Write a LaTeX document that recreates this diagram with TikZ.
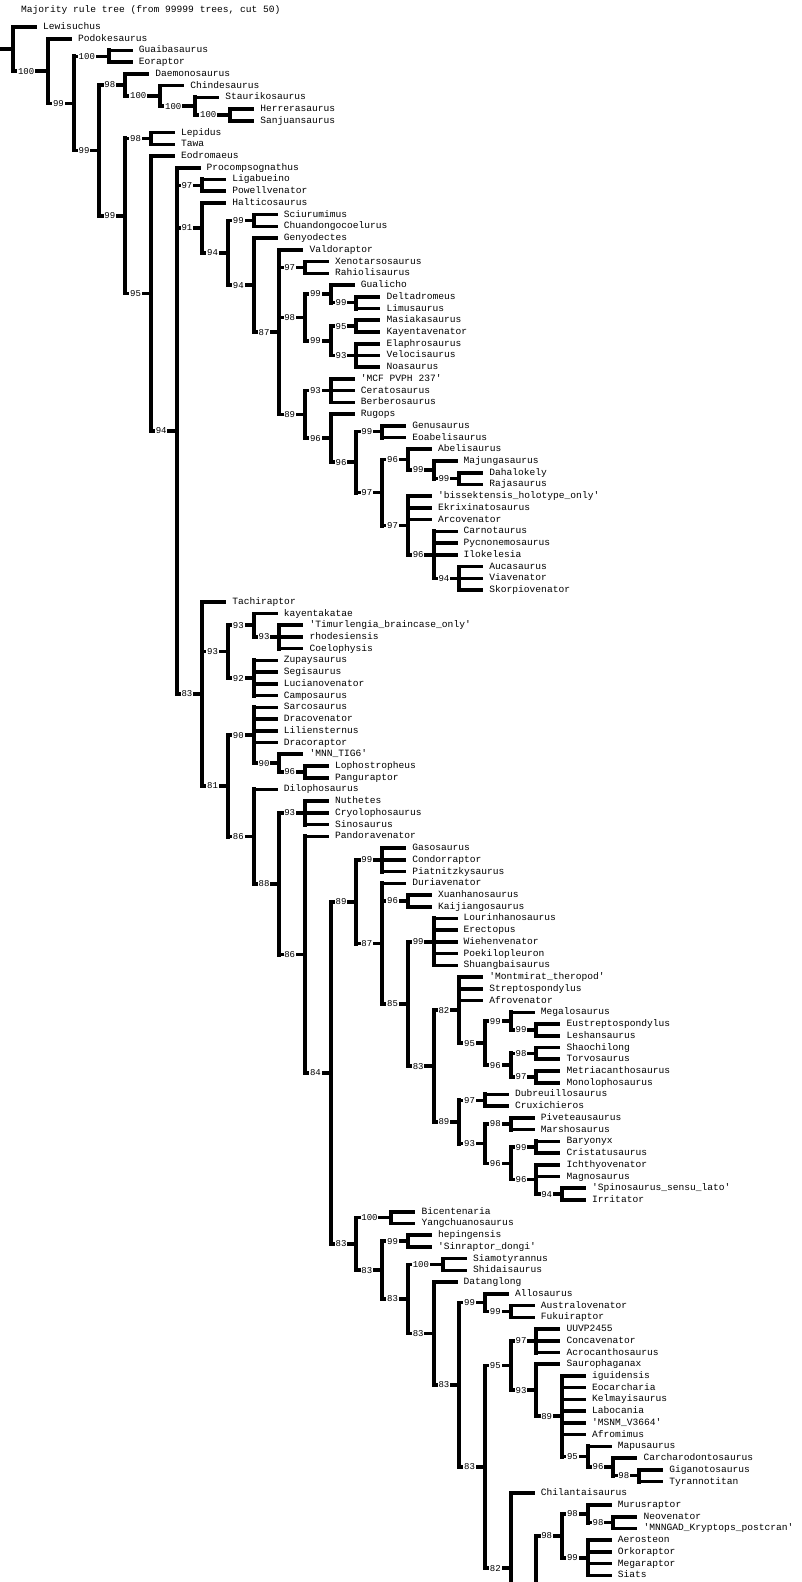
\documentclass[tikz,border=0pt]{standalone}
\usepackage{fontspec}
\newfontfamily\tf{Liberation Mono}
\def\q{\textquotesingle}
\makeatletter
\newcount\leafcnt
\def\drawlist{}
\expandafter\def\csname x@top\endcsname{-12.7}
\def\Lf#1#2#3{%
  \pgfmathsetmacro\tmpy{27+11.73*\the\leafcnt}%
  \expandafter\xdef\csname y@#1\endcsname{\tmpy}%
  \global\advance\leafcnt by 1
  \g@addto@macro\drawlist{\drawleaf{#1}{#2}{#3}}}
\def\Ph#1#2{\expandafter\xdef\csname y@#1\endcsname{#2}}
\def\Cl#1#2#3#4#5{%
  \pgfmathsetmacro\tmpy{(\csname y@#4\endcsname+\csname y@#5\endcsname)/2}%
  \expandafter\xdef\csname y@#1\endcsname{\tmpy}%
  \ifnum0#3>99 \def\off{35}\else\def\off{25.7}\fi
  \expandafter\xdef\csname x@#1\endcsname{(\expandafter\noexpand\csname x@#2\endcsname+\off)}%
  \g@addto@macro\drawlist{\drawclade{#1}{#2}{#3}{#4}{#5}}}
\def\drawclade#1#2#3#4#5{%
  \pgfmathsetmacro\X{\csname x@#1\endcsname}%
  \pgfmathsetmacro\PX{\csname x@#2\endcsname}%
  \edef\Ya{\csname y@#4\endcsname}\edef\Yb{\csname y@#5\endcsname}\edef\Y{\csname y@#1\endcsname}%
  \draw[bar] (\X,\Ya) -- (\X,\Yb);
  \draw[hl] (\PX,\Y) -- (\X,\Y);
  \if\relax\detokenize{#3}\relax\else
  \node[lab] at (\PX+4,\Y+3) {#3};\fi}
\def\drawleaf#1#2#3{%
  \pgfmathsetmacro\PX{\csname x@#2\endcsname}%
  \edef\Y{\csname y@#1\endcsname}%
  \draw[hl] (\PX,\Y) -- (\PX+24,\Y);
  \node[leaf] at (\PX+30,\Y+2.5) {#3};}
\makeatother
\tikzset{
  bar/.style={line width=4pt, line cap=rect},
  hl/.style={line width=3.6pt},
  lab/.style={anchor=base west, fill=white, inner xsep=0.8pt, inner ysep=0.6pt, font=\tf\fontsize{9}{9}\selectfont},
  leaf/.style={anchor=base west, inner sep=0pt, font=\tf\fontsize{9.6}{10}\selectfont}
}
\begin{document}
\begin{tikzpicture}[x=1pt,y=-1pt]
\useasboundingbox (0,0) rectangle (802,1582);
\clip (0,0) rectangle (802,1582);
\node[leaf] (title) at (21,12.5) {Majority rule tree (from 99999 trees, cut 50)};
\Lf{l0}{root}{Lewisuchus}
\Lf{l1}{A}{Podokesaurus}
\Lf{l2}{C}{Guaibasaurus}
\Lf{l3}{C}{Eoraptor}
\Cl{C}{B}{100}{l2}{l3}
\Lf{l4}{E}{Daemonosaurus}
\Lf{l5}{E2}{Chindesaurus}
\Lf{l6}{E3}{Staurikosaurus}
\Lf{l7}{E4}{Herrerasaurus}
\Lf{l8}{E4}{Sanjuansaurus}
\Cl{E4}{E3}{100}{l7}{l8}
\Cl{E3}{E2}{100}{l6}{E4}
\Cl{E2}{E}{100}{l5}{E3}
\Cl{E}{D}{98}{l4}{E2}
\Lf{l9}{G}{Lepidus}
\Lf{l10}{G}{Tawa}
\Cl{G}{F}{98}{l9}{l10}
\Lf{l11}{H}{Eodromaeus}
\Lf{l12}{I}{Procompsognathus}
\Lf{l13}{J}{Ligabueino}
\Lf{l14}{J}{Powellvenator}
\Cl{J}{I}{97}{l13}{l14}
\Lf{l15}{K}{Halticosaurus}
\Lf{l16}{K2}{Sciurumimus}
\Lf{l17}{K2}{Chuandongocoelurus}
\Cl{K2}{K1}{99}{l16}{l17}
\Lf{l18}{K3}{Genyodectes}
\Lf{l19}{L}{Valdoraptor}
\Lf{l20}{L1}{Xenotarsosaurus}
\Lf{l21}{L1}{Rahiolisaurus}
\Cl{L1}{L}{97}{l20}{l21}
\Lf{l22}{L3}{Gualicho}
\Lf{l23}{L4}{Deltadromeus}
\Lf{l24}{L4}{Limusaurus}
\Cl{L4}{L3}{99}{l23}{l24}
\Cl{L3}{L2}{99}{l22}{L4}
\Lf{l25}{L6}{Masiakasaurus}
\Lf{l26}{L6}{Kayentavenator}
\Cl{L6}{L5}{95}{l25}{l26}
\Lf{l27}{L7}{Elaphrosaurus}
\Lf{l28}{L7}{Velocisaurus}
\Lf{l29}{L7}{Noasaurus}
\Cl{L7}{L5}{93}{l27}{l29}
\Cl{L5}{L2}{99}{L6}{L7}
\Cl{L2}{L}{98}{L3}{L5}
\Lf{l30}{M1}{\q MCF PVPH 237\q}
\Lf{l31}{M1}{Ceratosaurus}
\Lf{l32}{M1}{Berberosaurus}
\Cl{M1}{M}{93}{l30}{l32}
\Lf{l33}{M2}{Rugops}
\Lf{l34}{M4}{Genusaurus}
\Lf{l35}{M4}{Eoabelisaurus}
\Cl{M4}{M3}{99}{l34}{l35}
\Lf{l36}{M6}{Abelisaurus}
\Lf{l37}{M7}{Majungasaurus}
\Lf{l38}{M8}{Dahalokely}
\Lf{l39}{M8}{Rajasaurus}
\Cl{M8}{M7}{99}{l38}{l39}
\Cl{M7}{M6}{99}{l37}{M8}
\Cl{M6}{M5}{96}{l36}{M7}
\Lf{l40}{M9}{\q bissektensis\_holotype\_only\q}
\Lf{l41}{M9}{Ekrixinatosaurus}
\Lf{l42}{M9}{Arcovenator}
\Lf{l43}{M10}{Carnotaurus}
\Lf{l44}{M10}{Pycnonemosaurus}
\Lf{l45}{M10}{Ilokelesia}
\Lf{l46}{M11}{Aucasaurus}
\Lf{l47}{M11}{Viavenator}
\Lf{l48}{M11}{Skorpiovenator}
\Cl{M11}{M10}{94}{l46}{l48}
\Cl{M10}{M9}{96}{l43}{M11}
\Cl{M9}{M5}{97}{l40}{M10}
\Cl{M5}{M3}{97}{M6}{M9}
\Cl{M3}{M2}{96}{M4}{M5}
\Cl{M2}{M}{96}{l33}{M3}
\Cl{M}{L}{89}{M1}{M2}
\Cl{L}{K3}{87}{l19}{M}
\Cl{K3}{K1}{94}{l18}{L}
\Cl{K1}{K}{94}{K2}{K3}
\Cl{K}{I}{91}{l15}{K1}
\Lf{l49}{T}{Tachiraptor}
\Lf{l50}{T2}{kayentakatae}
\Lf{l51}{T3}{\q Timurlengia\_braincase\_only\q}
\Lf{l52}{T3}{rhodesiensis}
\Lf{l53}{T3}{Coelophysis}
\Cl{T3}{T2}{93}{l51}{l53}
\Cl{T2}{T1}{93}{l50}{T3}
\Lf{l54}{T4}{Zupaysaurus}
\Lf{l55}{T4}{Segisaurus}
\Lf{l56}{T4}{Lucianovenator}
\Lf{l57}{T4}{Camposaurus}
\Cl{T4}{T1}{92}{l54}{l57}
\Cl{T1}{T}{93}{T2}{T4}
\Lf{l58}{U1}{Sarcosaurus}
\Lf{l59}{U1}{Dracovenator}
\Lf{l60}{U1}{Liliensternus}
\Lf{l61}{U1}{Dracoraptor}
\Lf{l62}{U2}{\q MNN\_TIG6\q}
\Lf{l63}{U3}{Lophostropheus}
\Lf{l64}{U3}{Panguraptor}
\Cl{U3}{U2}{96}{l63}{l64}
\Cl{U2}{U1}{90}{l62}{U3}
\Cl{U1}{U}{90}{l58}{U2}
\Lf{l65}{V}{Dilophosaurus}
\Lf{l66}{V2}{Nuthetes}
\Lf{l67}{V2}{Cryolophosaurus}
\Lf{l68}{V2}{Sinosaurus}
\Cl{V2}{V1}{93}{l66}{l68}
\Lf{l69}{W}{Pandoravenator}
\Lf{l70}{P1}{Gasosaurus}
\Lf{l71}{P1}{Condorraptor}
\Lf{l72}{P1}{Piatnitzkysaurus}
\Cl{P1}{P}{99}{l70}{l72}
\Lf{l73}{P2}{Duriavenator}
\Lf{l74}{P3}{Xuanhanosaurus}
\Lf{l75}{P3}{Kaijiangosaurus}
\Cl{P3}{P2}{96}{l74}{l75}
\Lf{l76}{P5}{Lourinhanosaurus}
\Lf{l77}{P5}{Erectopus}
\Lf{l78}{P5}{Wiehenvenator}
\Lf{l79}{P5}{Poekilopleuron}
\Lf{l80}{P5}{Shuangbaisaurus}
\Cl{P5}{P4}{99}{l76}{l80}
\Lf{l81}{P7}{\q Montmirat\_theropod\q}
\Lf{l82}{P7}{Streptospondylus}
\Lf{l83}{P7}{Afrovenator}
\Lf{l84}{P9}{Megalosaurus}
\Lf{l85}{P9b}{Eustreptospondylus}
\Lf{l86}{P9b}{Leshansaurus}
\Cl{P9b}{P9}{99}{l85}{l86}
\Cl{P9}{P8}{99}{l84}{P9b}
\Lf{l87}{P11}{Shaochilong}
\Lf{l88}{P11}{Torvosaurus}
\Cl{P11}{P10}{98}{l87}{l88}
\Lf{l89}{P11b}{Metriacanthosaurus}
\Lf{l90}{P11b}{Monolophosaurus}
\Cl{P11b}{P10}{97}{l89}{l90}
\Cl{P10}{P8}{96}{P11}{P11b}
\Cl{P8}{P7}{95}{P9}{P10}
\Cl{P7}{P6}{82}{l81}{P8}
\Lf{l91}{P13}{Dubreuillosaurus}
\Lf{l92}{P13}{Cruxichieros}
\Cl{P13}{P12}{97}{l91}{l92}
\Lf{l93}{P15}{Piveteausaurus}
\Lf{l94}{P15}{Marshosaurus}
\Cl{P15}{P14}{98}{l93}{l94}
\Lf{l95}{P17}{Baryonyx}
\Lf{l96}{P17}{Cristatusaurus}
\Cl{P17}{P16}{99}{l95}{l96}
\Lf{l97}{P18}{Ichthyovenator}
\Lf{l98}{P18}{Magnosaurus}
\Lf{l99}{P19}{\q Spinosaurus\_sensu\_lato\q}
\Lf{l100}{P19}{Irritator}
\Cl{P19}{P18}{94}{l99}{l100}
\Cl{P18}{P16}{96}{l97}{P19}
\Cl{P16}{P14}{96}{P17}{P18}
\Cl{P14}{P12}{93}{P15}{P16}
\Cl{P12}{P6}{89}{P13}{P14}
\Cl{P6}{P4}{83}{P7}{P12}
\Cl{P4}{P2}{85}{P5}{P6}
\Cl{P2}{P}{87}{l73}{P4}
\Cl{P}{W1}{89}{P1}{P2}
\Lf{l101}{Q1}{Bicentenaria}
\Lf{l102}{Q1}{Yangchuanosaurus}
\Cl{Q1}{Q}{100}{l101}{l102}
\Lf{l103}{R1}{hepingensis}
\Lf{l104}{R1}{\q Sinraptor\_dongi\q}
\Cl{R1}{R}{99}{l103}{l104}
\Lf{l105}{S1}{Siamotyrannus}
\Lf{l106}{S1}{Shidaisaurus}
\Cl{S1}{S}{100}{l105}{l106}
\Lf{l107}{Sa}{Datanglong}
\Lf{l108}{Sc}{Allosaurus}
\Lf{l109}{Sc2}{Australovenator}
\Lf{l110}{Sc2}{Fukuiraptor}
\Cl{Sc2}{Sc}{99}{l109}{l110}
\Cl{Sc}{Sb}{99}{l108}{Sc2}
\Lf{l111}{Se1}{UUVP2455}
\Lf{l112}{Se1}{Concavenator}
\Lf{l113}{Se1}{Acrocanthosaurus}
\Cl{Se1}{Se}{97}{l111}{l113}
\Lf{l114}{Se2}{Saurophaganax}
\Lf{l115}{Se3}{iguidensis}
\Lf{l116}{Se3}{Eocarcharia}
\Lf{l117}{Se3}{Kelmayisaurus}
\Lf{l118}{Se3}{Labocania}
\Lf{l119}{Se3}{\q MSNM\_V3664\q}
\Lf{l120}{Se3}{Afromimus}
\Lf{l121}{Se4}{Mapusaurus}
\Lf{l122}{Se5}{Carcharodontosaurus}
\Lf{l123}{Se6}{Giganotosaurus}
\Lf{l124}{Se6}{Tyrannotitan}
\Cl{Se6}{Se5}{98}{l123}{l124}
\Cl{Se5}{Se4}{96}{l122}{Se6}
\Cl{Se4}{Se3}{95}{l121}{Se5}
\Cl{Se3}{Se2}{89}{l115}{Se4}
\Cl{Se2}{Se}{93}{l114}{Se3}
\Cl{Se}{Sd}{95}{Se1}{Se2}
\Lf{l125}{Z}{Chilantaisaurus}
\Lf{l126}{Z2}{Murusraptor}
\Lf{l127}{Z3}{Neovenator}
\Lf{l128}{Z3}{\q MNNGAD\_Kryptops\_postcran\q}
\Cl{Z3}{Z2}{98}{l127}{l128}
\Cl{Z2}{Z1}{98}{l126}{Z3}
\Lf{l129}{Z4}{Aerosteon}
\Lf{l130}{Z4}{Orkoraptor}
\Lf{l131}{Z4}{Megaraptor}
\Lf{l132}{Z4}{Siats}
\Cl{Z4}{Z1}{99}{l129}{l132}
\Cl{Z1}{X}{98}{Z2}{Z4}
\Ph{ph}{1750}
\Cl{X}{Z}{}{Z1}{ph}
\Cl{Z}{Sd}{82}{l125}{X}
\Cl{Sd}{Sb}{83}{Se}{Z}
\Cl{Sb}{Sa}{83}{Sc}{Sd}
\Cl{Sa}{S}{83}{l107}{Sb}
\Cl{S}{R}{83}{S1}{Sa}
\Cl{R}{Q}{83}{R1}{S}
\Cl{Q}{W1}{83}{Q1}{R}
\Cl{W1}{W}{84}{P}{Q}
\Cl{W}{V1}{86}{l69}{W1}
\Cl{V1}{V}{88}{V2}{W}
\Cl{V}{U}{86}{l65}{V1}
\Cl{U}{T}{81}{U1}{V}
\Cl{T}{I}{83}{l49}{U}
\Cl{I}{H}{94}{l12}{T}
\Cl{H}{F}{95}{l11}{I}
\Cl{F}{D}{99}{G}{H}
\Cl{D}{B}{99}{E}{F}
\Cl{B}{A}{99}{C}{D}
\Cl{A}{root}{100}{l1}{B}
\Cl{root}{top}{}{l0}{A}
\drawlist
\end{tikzpicture}
\end{document}
